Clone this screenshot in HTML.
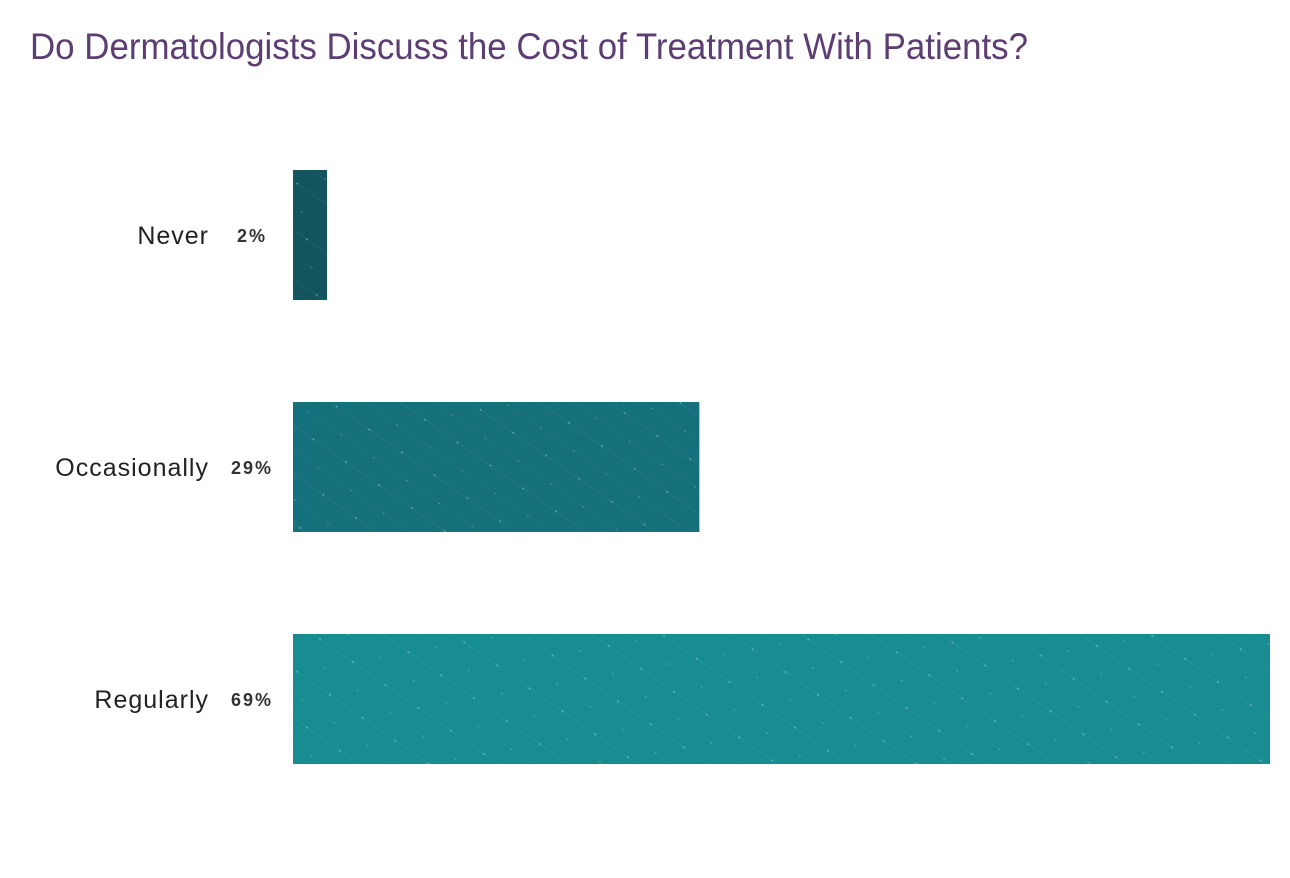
<!DOCTYPE html>
<html><head><meta charset="utf-8">
<style>
html,body{margin:0;padding:0;background:#fff;width:1290px;height:878px;overflow:hidden}
text{font-family:"Liberation Sans",sans-serif}
</style></head>
<body>
<svg id="chart" width="1290" height="878" xmlns="http://www.w3.org/2000/svg">
<defs>
<pattern id="dots" patternUnits="userSpaceOnUse" width="40" height="40" patternTransform="rotate(35)">
<line x1="0" y1="0" x2="40" y2="0" stroke="#ffffff" stroke-opacity="0.06" stroke-width="1"/>
<line x1="0" y1="20" x2="40" y2="20" stroke="#ffffff" stroke-opacity="0.06" stroke-width="1"/>
<rect x="8" y="-0.7" width="1.5" height="1.5" fill="#ffffff" fill-opacity="0.4"/>
<rect x="28" y="19.3" width="1.5" height="1.5" fill="#ffffff" fill-opacity="0.4"/>
</pattern>
</defs>
<text x="30" y="59" font-size="37" fill="#5c3e72" textLength="998" lengthAdjust="spacingAndGlyphs">Do Dermatologists Discuss the Cost of Treatment With Patients?</text>
<g id="bars"></g>
</svg>
<script>
const categories = ["Never", "Occasionally", "Regularly"];
const values = [2.4, 28.7, 69];
const valueLabels = ["2%", "29%", "69%"];
const colors = ["#13555f", "#14707a", "#178d91"];

const x0 = 293, pxPer = 977 / 69;
const xScale = v => v * pxPer;
const bandTop = 170, bandStep = 232, barH = 130;
const yScale = i => bandTop + i * bandStep;
const NS = "http://www.w3.org/2000/svg";
const g = document.getElementById("bars");
categories.forEach((c, i) => {
  const y = yScale(i), w = xScale(values[i]);
  const r = document.createElementNS(NS, "rect");
  
  
  r.setAttribute("x", x0); r.setAttribute("y", y);
  r.setAttribute("width", w); r.setAttribute("height", barH);
  r.setAttribute("fill", colors[i]);
  g.appendChild(r);
  const p = document.createElementNS(NS, "rect");
  
  
  p.setAttribute("x", x0); p.setAttribute("y", y);
  p.setAttribute("width", w); p.setAttribute("height", barH);
  p.setAttribute("fill", "url(#dots)");
  g.appendChild(p);
  const t = document.createElementNS(NS, "text");
  
  
  t.setAttribute("x", 209); t.setAttribute("y", y + barH / 2 + 9);
  t.setAttribute("text-anchor", "end"); t.setAttribute("font-size", "25");
  t.setAttribute("letter-spacing", "1");
  t.setAttribute("fill", "#222");
  t.textContent = c;
  g.appendChild(t);
  const v = document.createElementNS(NS, "text");
  
  
  v.setAttribute("x", 252); v.setAttribute("y", y + barH / 2 + 7);
  v.setAttribute("text-anchor", "middle");
  v.setAttribute("font-size", "18"); v.setAttribute("font-weight", "bold");
  v.setAttribute("letter-spacing", "2");
  v.setAttribute("fill", "#333");
  v.textContent = valueLabels[i];
  g.appendChild(v);
});
</script>
</body></html>
